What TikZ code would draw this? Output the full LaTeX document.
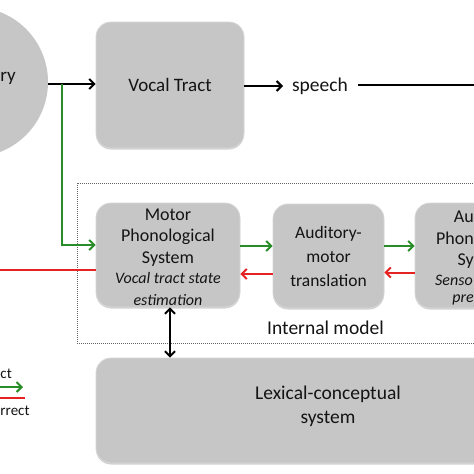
\documentclass[tikz,border=0pt]{standalone}
\usepackage{fontspec}
\setmainfont{Carlito}
\usetikzlibrary{arrows.meta,shadows}
\definecolor{boxgray}{RGB}{198,198,198}
\definecolor{boxedge}{RGB}{215,215,215}
\definecolor{fgreen}{RGB}{40,140,40}
\definecolor{fred}{RGB}{230,35,35}
\definecolor{txt}{RGB}{20,20,20}
\newcommand\smallit[1]{{\itshape\fontsize{16}{18}\selectfont #1}}
\tikzset{
  gbox/.style={rectangle, rounded corners=15pt, fill=boxgray, draw=boxedge, line width=0.8pt,
    drop shadow={shadow xshift=0pt, shadow yshift=-1.5pt, fill=black!35, opacity=0.5},
    align=center, text=txt, inner sep=0pt},
  lbl/.style={text=txt, inner sep=0pt, align=center},
  blk/.style={draw=black, line width=2pt, -{Straight Barb[length=5pt,width=10pt,line width=2pt]}},
  grn/.style={draw=fgreen, line width=2pt, -{Straight Barb[length=5pt,width=10pt,line width=2pt]}},
  rd/.style={draw=fred, line width=2pt, -{Straight Barb[length=5pt,width=10pt,line width=2pt]}},
  rdplain/.style={draw=fred, line width=2pt},
  dbl/.style={draw=black, line width=2pt, {Straight Barb[length=5pt,width=10pt,line width=2pt]}-{Straight Barb[length=5pt,width=10pt,line width=2pt]}},
  imbox/.style={draw=black!60, densely dotted, line width=1pt}
}
\begin{document}
\begin{tikzpicture}[x=1pt,y=-1pt]
\useasboundingbox (0,0) rectangle (474,474);
\clip (0,0) rectangle (474,474);
\fill[white] (0,0) rectangle (474,474);

% internal model box
\draw[imbox] (77,183) rectangle (600,343);

% circle (controller)
\node[circle, fill=boxgray, minimum size=150pt, inner sep=0pt] (ctrl) at (-27,82) {};
\node[lbl, anchor=east, font=\fontsize{19}{21}\selectfont] (ctrltxt) at (16,78) {ry};

% boxes
\node[gbox, minimum width=148pt, minimum height=126pt, font=\fontsize{19}{21}\selectfont] (vt) at (170,85) {Vocal Tract};
\node[lbl, font=\fontsize{19.5}{21}\selectfont] (speech) at (320,86) {speech};

\node[gbox, minimum width=144pt, minimum height=104pt] (motor) at (168,255) {};
\node[lbl, font=\fontsize{18}{21.5}\selectfont] (motortxt) at (168,257)
  {Motor\\Phonological\\System\\[-1pt]\smallit{Vocal tract state}\\\smallit{estimation}};

\node[gbox, minimum width=111pt, minimum height=104pt, font=\fontsize{17.5}{24}\selectfont] (am) at (328.5,256)
  {Auditory-\\motor\\translation};

\node[gbox, minimum width=144pt, minimum height=105pt] (aud) at (487,255.5) {};
\node[lbl, anchor=base east, font=\fontsize{18}{21}\selectfont] (aud1) at (474,222) {Au};
\node[lbl, anchor=base east, font=\fontsize{18}{21}\selectfont] (aud2) at (474,244) {Phon};
\node[lbl, anchor=base east, font=\fontsize{18}{21}\selectfont] (aud3) at (474,265) {Sy};
\node[lbl, anchor=base west, font=\itshape\fontsize{16}{18}\selectfont] (aud4) at (435,285) {Senso};
\node[lbl, anchor=base east, font=\itshape\fontsize{16}{18}\selectfont] (aud5) at (474,302) {pre};

\node[lbl, font=\fontsize{19.5}{21}\selectfont] (im) at (325.5,328) {Internal model};

\node[gbox, minimum width=464pt, minimum height=105pt] (lex) at (328,410.5) {};
\node[lbl, font=\fontsize{19.5}{24}\selectfont] (lextxt) at (328,406)
  {Lexical-conceptual\\system};

% connectors
\coordinate (cE) at (48,84);
\coordinate (gs) at (62,84);
\draw[blk] (cE) -- (cE -| vt.west);
\draw[blk] (vt.east |- 0,86) -- (283,86);
\coordinate (sp2) at (358,85);
\coordinate (sp3) at (480,85);
\draw[draw=black, line width=2pt] (sp2) -- (sp3);

\draw[grn] (gs) |- ([yshift=10pt]motor.west);
\coordinate (redL) at (-5,270);
\draw[rdplain] (redL) -- (redL -| motor.west);

\draw[grn] ([yshift=9pt]motor.east) -- ([yshift=9pt]motor.east -| am.west);
\draw[rd] ([yshift=-18pt]am.west) -- ([yshift=-18pt]am.west -| motor.east);
\draw[grn] ([yshift=10pt]am.east) -- ([yshift=10pt]am.east -| aud.west);
\draw[rd] ([yshift=-17pt]aud.west) -- ([yshift=-17pt]aud.west -| am.east);

\draw[dbl] (motor.south -| 170,0) -- (lex.north -| 170,0);

% legend
\node[lbl, anchor=base west, font=\fontsize{15}{18}\selectfont] (lg1) at (0.3,378) {ct};
\coordinate (lgA) at (-5,387);
\coordinate (lgB) at (23,387);
\draw[grn] (lgA) -- (lgB);
\coordinate (lgC) at (-5,398);
\coordinate (lgD) at (25,398);
\draw[rdplain, line width=2.5pt] (lgC) -- (lgD);
\node[lbl, anchor=base west, font=\fontsize{15}{18}\selectfont] (lg2) at (0.3,415) {rrect};
\end{tikzpicture}
\end{document}
